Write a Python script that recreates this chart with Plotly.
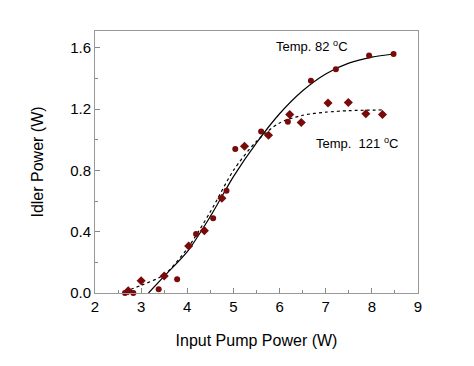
import plotly.graph_objects as go

# data points
x82 = [2.65, 2.83, 3.38, 3.78, 4.19, 4.56, 4.85, 5.04, 5.60, 6.18, 6.68, 7.22, 7.94, 8.47]
y82 = [0.00, 0.00, 0.024, 0.089, 0.385, 0.488, 0.668, 0.94, 1.054, 1.117, 1.385, 1.46, 1.55, 1.56]
x121 = [2.72, 3.00, 3.50, 4.03, 4.37, 4.75, 5.24, 5.76, 6.22, 6.47, 7.05, 7.49, 7.87, 8.23]
y121 = [0.015, 0.08, 0.111, 0.307, 0.407, 0.618, 0.958, 1.03, 1.165, 1.113, 1.24, 1.243, 1.17, 1.165]

# fitted curves
fit82_x = [3.16, 3.5, 4.0, 4.5, 5.0, 5.5, 6.0, 6.5, 7.0, 7.5, 8.0, 8.47]
fit82_y = [0.00, 0.11, 0.27, 0.50, 0.76, 0.98, 1.17, 1.32, 1.43, 1.50, 1.54, 1.56]
fit121_x = [2.65, 3.0, 3.5, 4.0, 4.5, 5.0, 5.5, 6.0, 6.5, 7.0, 7.5, 8.25]
fit121_y = [0.01, 0.05, 0.12, 0.29, 0.53, 0.80, 0.99, 1.11, 1.16, 1.18, 1.19, 1.195]

xticks = [2, 3, 4, 5, 6, 7, 8, 9]
yticks = [0.0, 0.4, 0.8, 1.2, 1.6]

FONT = "Liberation Sans, Arial, sans-serif"
RED = "#7a0a0a"

fig = go.Figure()
fig.add_trace(go.Scatter(x=fit82_x, y=fit82_y, mode="lines",
                         line=dict(color="black", width=1.2, shape="spline", smoothing=0.8),
                         showlegend=False, hoverinfo="skip"))
fig.add_trace(go.Scatter(x=fit121_x, y=fit121_y, mode="lines",
                         line=dict(color="black", width=1.2, dash="dot", shape="spline", smoothing=0.8),
                         showlegend=False, hoverinfo="skip"))
fig.add_trace(go.Scatter(x=x82, y=y82, mode="markers", marker=dict(symbol="circle", size=6, color=RED),
                         cliponaxis=False, showlegend=False))
fig.add_trace(go.Scatter(x=x121, y=y121, mode="markers", marker=dict(symbol="diamond", size=7, color=RED),
                         cliponaxis=False, showlegend=False))

fig.add_annotation(x=6.7, y=1.61, text="Temp. 82 <sup>o</sup>C", showarrow=False, xanchor="center",
                   font=dict(family=FONT, size=13, color="black"))
fig.add_annotation(x=7.68, y=0.98, text="Temp.  121 <sup>o</sup>C", showarrow=False, xanchor="center",
                   font=dict(family=FONT, size=13, color="black"))

axis_common = dict(showline=True, linecolor="#999999", linewidth=1, mirror=True, ticks="inside",
                   tickcolor="#888888", ticklen=5, showgrid=False, zeroline=False,
                   tickfont=dict(family=FONT, size=15, color="black"))
fig.update_xaxes(range=[2, 9], tickvals=xticks, minor=dict(dtick=0.5, ticks="inside", ticklen=3, tickcolor="#888888"),
                 title=dict(text="Input Pump Power (W)", font=dict(family=FONT, size=16, color="black"), standoff=20),
                 **axis_common)
fig.update_yaxes(range=[0, 1.71], tickvals=yticks, tickformat=".1f",
                 minor=dict(dtick=0.2, ticks="inside", ticklen=3, tickcolor="#888888"),
                 title=dict(text="Idler Power (W)", font=dict(family=FONT, size=16, color="black"), standoff=22),
                 **axis_common)

fig.update_layout(width=474, height=366, margin=dict(l=87, r=64, t=23, b=81),
                  paper_bgcolor="white", plot_bgcolor="white", font=dict(family=FONT))
fig.write_html("out.html")
